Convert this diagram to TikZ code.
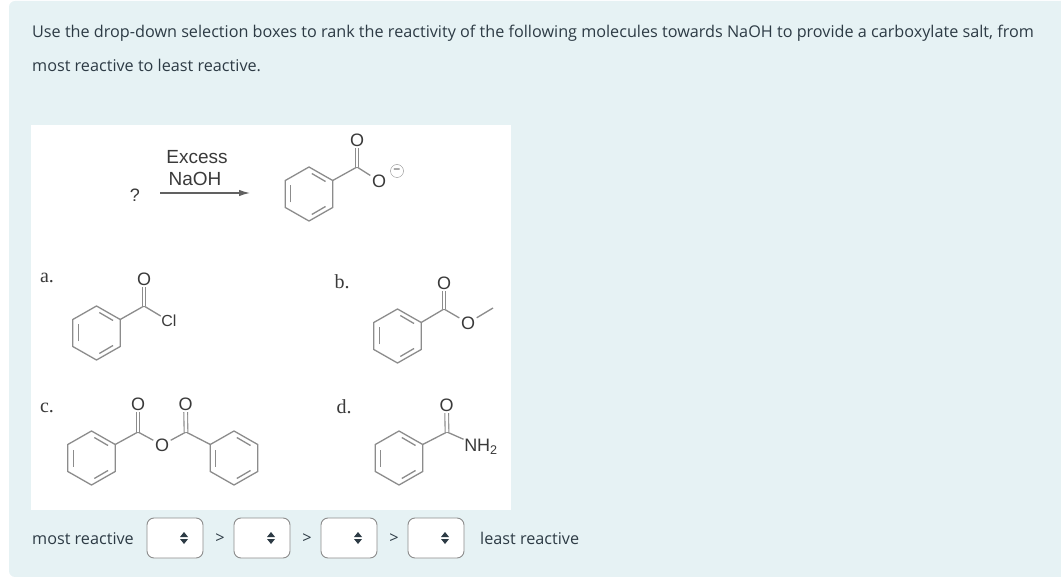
\documentclass[tikz,border=0pt]{standalone}
\usepackage{fontspec}
\usetikzlibrary{arrows.meta}
\newfontfamily\uifont{Open Sans}
\newfontfamily\chemfont{Liberation Sans}
\newfontfamily\labelfont{Liberation Serif}
\definecolor{panelblue}{HTML}{E6F2F4}
\definecolor{uitext}{HTML}{2D3B45}
\definecolor{bondgray}{HTML}{8C8C8C}
\definecolor{atomgray}{HTML}{3A3A3A}
\tikzset{
  bond/.style={draw=bondgray,line width=1.3pt},
  dbond/.style={bond,double=white,double distance=2.6pt,line width=1.1pt},
  atom/.style={font=\chemfont\fontsize{18}{18}\selectfont,text=atomgray,inner sep=1.5pt},
  reagent/.style={atom,font=\chemfont\fontsize{19}{19}\selectfont},
  letter/.style={font=\labelfont\fontsize{20}{20}\selectfont,text=atomgray,inner sep=0pt},
  uilabel/.style={font=\uifont\fontsize{16.2}{16.2}\selectfont,text=uitext,inner sep=0pt,anchor=base west},
  selbox/.style={draw=gray!90,fill=white,rounded corners=7pt,minimum width=56pt,minimum height=40pt,inner sep=0pt,line width=0.9pt},
}
% ring with its three inner lines
\newcommand{\phenyl}[3]{
  \coordinate (#1a) at (#2,#3-27);
  \coordinate (#1b) at (#2+23.7,#3-13.5);
  \coordinate (#1c) at (#2+23.7,#3+13.5);
  \coordinate (#1d) at (#2,#3+27);
  \coordinate (#1e) at (#2-23.7,#3+13.5);
  \coordinate (#1f) at (#2-23.7,#3-13.5);
  \draw[bond] (#1a) -- (#1b) -- (#1c) -- (#1d) -- (#1e) -- (#1f) -- cycle;
  \draw[bond] (#2+2.8,#3-20.5) -- (#2+16.5,#3-12.5);
  \draw[bond] (#2+16.5,#3+12.5) -- (#2+2.8,#3+20.5);
  \draw[bond] (#2-18.3,#3+8.5) -- (#2-18.3,#3-8.5);
}
\begin{document}
\begin{tikzpicture}[x=1pt,y=-1pt]
  \useasboundingbox (0,0) rectangle (1061,577);
  \fill[panelblue,rounded corners=6pt] (1061,1) -- (9,1) -- (9,577) -- (1061,577);
  \node[uilabel] (line1) at (32,37.2) {Use the drop-down selection boxes to rank the reactivity of the following molecules towards NaOH to provide a carboxylate salt, from};
  \node[uilabel] (line2) at (32,71.2) {most reactive to least reactive.};
  \fill[white] (31,125) rectangle (511,510);

  % scheme
  \node[atom] (what) at (135,195) {?};
  \coordinate (arrowstart) at (160,193);
  \coordinate (arrowend) at (250,193);
  \draw[bond,draw=atomgray!80,-{Latex[length=11pt,width=6.5pt]}] (arrowstart) -- (arrowend);
  \node[reagent] (excess) at (197,157) {Excess};
  \node[reagent] (naoh) at (195,179) {NaOH};
  \phenyl{s}{309}{194}
  \coordinate (sco) at (357,167);
  \node[atom] (sod) at (357,140) {O};
  \node[atom] (sos) at (379,181) {O};
  \node[draw=bondgray,circle,minimum size=13pt,inner sep=0pt,font=\chemfont\fontsize{12}{12}\selectfont,text=atomgray] (scharge) at (397,171) {−};
  \draw[bond] (sb) -- (sco) -- (sos);
  \draw[dbond] (sco) -- (sod);

  % a
  \node[letter] (la) at (47,278) {a.};
  \phenyl{a}{96.5}{333}
  \coordinate (aco) at (144,306);
  \node[atom] (aod) at (144,279) {O};
  \node[atom,inner sep=0.5pt,font=\chemfont\fontsize{16}{16}\selectfont] (acl) at (169,321) {Cl};
  \draw[bond] (ab) -- (aco) -- (acl);
  \draw[dbond] (aco) -- (aod);

  % b
  \node[letter] (lb) at (342,282) {b.};
  \phenyl{b}{397.5}{336}
  \coordinate (bco) at (444,309);
  \node[atom] (bod) at (444,283) {O};
  \node[atom] (bos) at (468,323) {O};
  \coordinate (bme) at (493,308);
  \draw[bond] (bb) -- (bco) -- (bos) -- (bme);
  \draw[dbond] (bco) -- (bod);

  % c
  \node[letter] (lc) at (47,408) {c.};
  \phenyl{c}{91.5}{458}
  \phenyl{e}{234}{458}
  \coordinate (cco) at (138,432);
  \coordinate (eco) at (186,432);
  \node[atom] (cod) at (138,404) {O};
  \node[atom] (eod) at (185.5,404) {O};
  \node[atom] (cos) at (162,445) {O};
  \draw[bond] (cb) -- (cco) -- (cos) -- (eco) -- (ef);
  \draw[dbond] (cco) -- (cod);
  \draw[dbond] (eco) -- (eod);

  % d
  \node[letter] (ld) at (344,407) {d.};
  \phenyl{d}{399}{458}
  \coordinate (dco) at (447,432);
  \node[atom] (dod) at (446.5,405) {O};
  \node[atom,inner sep=0.5pt] (dnh) at (481,447) {NH\textsubscript{2}};
  \draw[bond] (db) -- (dco) -- (dnh);
  \draw[dbond] (dco) -- (dod);

  % answer row
  \node[uilabel] (most) at (32,544) {most reactive};
  \node[uilabel] (least) at (480,544) {least reactive};
  \foreach \i/\xpos in {1/175,2/262,3/349,4/436}{
    \node[selbox] (sel\i) at (\xpos,538) {};
    \fill[uitext] ([xshift=9pt]sel\i.center) ++(-4,-1) -- ++(8,0) -- ++(-4,-5) -- cycle;
    \fill[uitext] ([xshift=9pt]sel\i.center) ++(-4,1) -- ++(8,0) -- ++(-4,5) -- cycle;
  }
  \foreach \i/\xpos in {1/220,2/307,3/394}{
    \node[uilabel,anchor=center] (gt\i) at (\xpos,539) {>};
  }
\end{tikzpicture}
\end{document}
